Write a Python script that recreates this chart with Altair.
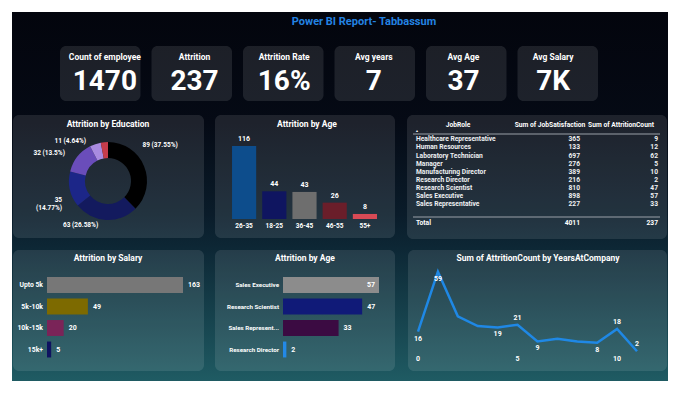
import altair as alt
import pandas as pd

# ---------------- data ----------------
report_title = "Power BI Report- Tabbassum"

kpi_labels = ["Count of employee", "Attrition", "Attrition Rate", "Avg years", "Avg Age", "Avg Salary"]
kpi_values = ["1470", "237", "16%", "7", "37", "7K"]

edu_keys = ["e1", "e2", "e3", "e4", "e5", "e6"]
edu_values = [89, 63, 35, 32, 11, 7]
edu_labels = ["89 (37.55%)", "63 (26.58%)", "35\n(14.77%)", "32 (13.5%)", "11 (4.64%)", ""]
edu_colors = ["#000000", "#131a5e", "#1c2688", "#6a4dba", "#a98be0", "#c63c4c"]

age_groups = ["26-35", "18-25", "36-45", "46-55", "55+"]
age_attrition = [116, 44, 43, 26, 8]
age_colors = ["#0d4d8c", "#0f1560", "#6e6e6e", "#6a1e2a", "#d84a55"]

job_roles = ["Healthcare Representative", "Human Resources", "Laboratory Technician", "Manager",
             "Manufacturing Director", "Research Director", "Research Scientist",
             "Sales Executive", "Sales Representative"]
job_satisfaction = [365, 133, 697, 276, 389, 216, 810, 898, 227]
job_attrition = [9, 12, 62, 5, 10, 2, 47, 57, 33]
table_total = ["Total", "4011", "237"]

salary_bands = ["Upto 5k", "5k-10k", "10k-15k", "15k+"]
salary_attrition = [163, 49, 20, 5]
salary_colors = ["#777777", "#7d6a00", "#7a2458", "#0e1260"]

top_roles = ["Sales Executive", "Research Scientist", "Sales Represent...", "Research Director"]
top_role_attrition = [57, 47, 33, 2]
top_role_colors = ["#8c8c8c", "#101a78", "#3b0b42", "#2389e6"]

years = [0, 1, 2, 3, 4, 5, 6, 7, 8, 9, 10, 11]
years_attrition = [16, 59, 27, 20, 19, 21, 9, 11, 9, 8, 18, 2]
years_label_below = [0, 1, 4, 6, 9]
years_label_above = [5, 10, 11]
years_ticks = [0, 5, 10]

# ---------------- style ----------------
FONT = "Roboto"
WHITE = "#ffffff"
one = alt.Data(values=[{"a": 1}])


def box(x1, y1, x2, y2, **kw):
    return alt.Chart(one).mark_rect(**kw).encode(
        x=alt.value(x1), x2=alt.value(x2), y=alt.value(y1), y2=alt.value(y2))


def label(text, x, y, size=8.5, color=WHITE, align="center", weight="bold"):
    return alt.Chart(one).mark_text(
        text=text, fontSize=size, color=color, align=align, baseline="middle",
        font=FONT, fontWeight=weight).encode(x=alt.value(x), y=alt.value(y))


def hline(x1, x2, y, color="#9aa0a8", width=1):
    return alt.Chart(one).mark_rule(color=color, strokeWidth=width).encode(
        x=alt.value(x1), x2=alt.value(x2), y=alt.value(y))


def txt(**kw):
    base = dict(fontSize=7, fontWeight="bold", font=FONT, color=WHITE, baseline="middle")
    base.update(kw)
    return base


layers = []

# background frame with gradient
layers.append(box(4, 4, 660, 373, fill=alt.Gradient(
    gradient="linear", x1=0, y1=0, x2=0, y2=1,
    stops=[alt.GradientStop(offset=0, color="#03050d"),
           alt.GradientStop(offset=0.3, color="#050a15"),
           alt.GradientStop(offset=0.55, color="#0a1c2a"),
           alt.GradientStop(offset=0.64, color="#0d2735"),
           alt.GradientStop(offset=1, color="#1f5b63")])))

# panels
PANEL = dict(fill="white", fillOpacity=0.1, cornerRadius=6)
for (x1, y1, x2, y2) in [(5, 107, 196, 230), (207, 107, 387, 230), (399, 107, 659, 231),
                         (5, 242, 196, 363), (207, 242, 387, 363), (400, 242, 659, 363)]:
    layers.append(box(x1, y1, x2, y2, **PANEL))

# title
layers.append(label(report_title, 356, 14, size=11, color="#2383e2"))

# KPI cards
kpi_df = pd.DataFrame({"k": kpi_labels, "v": kpi_values})
kx = alt.X("k:N", sort=kpi_labels, axis=None,
           scale=alt.Scale(domain=kpi_labels, range=[52, 590], paddingInner=0.12, paddingOuter=0))
layers.append(alt.Chart(kpi_df).mark_rect(**PANEL).encode(x=kx, y=alt.value(38), y2=alt.value(93)))
layers.append(alt.Chart(kpi_df).mark_text(**txt(fontSize=8.5))
              .encode(x=kx, y=alt.value(49), text="k:N"))
layers.append(alt.Chart(kpi_df).mark_text(**txt(fontSize=28))
              .encode(x=kx, y=alt.value(74), text="v:N"))

# panel titles
layers.append(label("Attrition by Education", 100, 116))
layers.append(label("Attrition by Age", 299, 116))
layers.append(label("Attrition by Salary", 100, 250))
layers.append(label("Attrition by Age", 297, 250))
layers.append(label("Sum of AttritionCount by YearsAtCompany", 530, 250))

# donut
edu_df = pd.DataFrame({"e": edu_keys, "n": edu_values, "lab": edu_labels,
                       "col": edu_colors, "o": list(range(len(edu_keys)))})
theta = alt.Theta("n:Q", stack=True)
layers.append(alt.Chart(edu_df).mark_arc(innerRadius=23, outerRadius=39).encode(
    theta=theta, order=alt.Order("o:Q"), color=alt.Color("col:N", scale=None),
    x=alt.value(100), y=alt.value(173)))
edu_label_style = [  # (dx, dy, align)
    (-8, -18, "left"), (-25, -2, "center"), (-1, 9, "right"), (-7, 1, "right"), (-7, 3, "right")]
for i, (dx, dy, al) in enumerate(edu_label_style):
    layers.append(alt.Chart(edu_df).transform_calculate(
        t=f"datum.o == {i} ? datum.lab : ''").mark_text(
        **txt(radius=46, dx=dx, dy=dy, align=al, lineBreak="\n", lineHeight=8, fontSize=6.5)).encode(
        theta=theta, order=alt.Order("o:Q"), text="t:N", x=alt.value(100), y=alt.value(173)))

# age bars
age_df = pd.DataFrame({"g": age_groups, "n": age_attrition, "col": age_colors})
ax = alt.X("g:N", sort=age_groups, axis=None,
           scale=alt.Scale(domain=age_groups, range=[221, 372], paddingInner=0.2, paddingOuter=0.1))
ay = alt.Y("n:Q", axis=None, scale=alt.Scale(domain=[0, 116], range=[211, 138], nice=False))
layers.append(alt.Chart(age_df).mark_bar().encode(x=ax, y=ay, color=alt.Color("col:N", scale=None)))
layers.append(alt.Chart(age_df).mark_text(**txt(dy=-7))
              .encode(x=ax, y=ay, text="n:Q"))
layers.append(alt.Chart(age_df).mark_text(**txt(fontSize=6.5))
              .encode(x=ax, y=alt.value(218), text="g:N"))

# table
tbl_df = pd.DataFrame({"r": job_roles, "s": job_satisfaction, "a": job_attrition})
ty = alt.Y("r:N", sort=job_roles, axis=None,
           scale=alt.Scale(type="point", domain=job_roles, range=[131.3, 196.3], padding=0))
TSTYLE = txt(fontSize=6.7, color="#eef0f2")
layers.append(label("JobRole", 450, 117, size=6.7))
layers.append(label("Sum of JobSatisfaction", 542, 117, size=6.7))
layers.append(label("Sum of AttritionCount", 613, 117, size=6.7))
layers.append(label("▲", 409, 123, size=3.5))
layers.append(hline(405, 652, 126))
layers.append(alt.Chart(tbl_df).mark_text(align="left", **TSTYLE).encode(x=alt.value(408), y=ty, text="r:N"))
layers.append(alt.Chart(tbl_df).mark_text(align="right", **TSTYLE).encode(x=alt.value(572), y=ty, text="s:Q"))
layers.append(alt.Chart(tbl_df).mark_text(align="right", **TSTYLE).encode(x=alt.value(650), y=ty, text="a:Q"))
layers.append(hline(405, 652, 209))
layers.append(label(table_total[0], 408, 215, size=6.7, align="left"))
layers.append(label(table_total[1], 572, 215, size=6.7, align="right"))
layers.append(label(table_total[2], 650, 215, size=6.7, align="right"))

# salary bars
sal_df = pd.DataFrame({"b": salary_bands, "n": salary_attrition, "col": salary_colors})
sy = alt.Y("b:N", sort=salary_bands, axis=None,
           scale=alt.Scale(domain=salary_bands, range=[266.25, 352.25], paddingInner=0.26, paddingOuter=0.13))
sx = alt.X("n:Q", axis=None, scale=alt.Scale(domain=[0, 163], range=[39, 175], nice=False))
layers.append(alt.Chart(sal_df).mark_bar().encode(x=sx, y=sy, color=alt.Color("col:N", scale=None)))
layers.append(alt.Chart(sal_df).mark_text(**txt(align="right", fontSize=6.8))
              .encode(x=alt.value(35), y=sy, text="b:N"))
layers.append(alt.Chart(sal_df).mark_text(**txt(align="left", dx=5))
              .encode(x=sx, y=sy, text="n:Q"))

# job role bars
role_df = pd.DataFrame({"r": top_roles, "n": top_role_attrition, "col": top_role_colors})
ry = alt.Y("r:N", sort=top_roles, axis=None,
           scale=alt.Scale(domain=top_roles, range=[266.25, 352.25], paddingInner=0.26, paddingOuter=0.13))
rx = alt.X("n:Q", axis=None, scale=alt.Scale(domain=[0, 57], range=[275, 371], nice=False))
layers.append(alt.Chart(role_df).mark_bar().encode(x=rx, y=ry, color=alt.Color("col:N", scale=None)))
layers.append(alt.Chart(role_df).mark_text(**txt(align="right", fontSize=6.2))
              .encode(x=alt.value(271), y=ry, text="r:N"))
layers.append(alt.Chart(role_df).transform_calculate(t="datum.n >= 50 ? datum.n : ''").mark_text(
    **txt(align="right", dx=-4)).encode(x=rx, y=ry, text="t:N"))
layers.append(alt.Chart(role_df).transform_calculate(t="datum.n < 50 ? datum.n : ''").mark_text(
    **txt(align="left", dx=5)).encode(x=rx, y=ry, text="t:N"))

# line chart
yr_df = pd.DataFrame({"yr": years, "n": years_attrition})
lx = alt.X("yr:Q", axis=None, scale=alt.Scale(domain=[0, 11], range=[410, 629], nice=False, zero=False))
ly = alt.Y("n:Q", axis=None, scale=alt.Scale(domain=[0, 59], range=[346, 263.7], nice=False))
layers.append(alt.Chart(yr_df).mark_line(color="#1f88e5", strokeWidth=2.5).encode(x=lx, y=ly))
layers.append(alt.Chart(yr_df).transform_filter(alt.FieldOneOfPredicate(field="yr", oneOf=years_label_below))
              .mark_text(**txt(dy=7)).encode(x=lx, y=ly, text="n:Q"))
layers.append(alt.Chart(yr_df).transform_filter(alt.FieldOneOfPredicate(field="yr", oneOf=years_label_above))
              .mark_text(**txt(dy=-7)).encode(x=lx, y=ly, text="n:Q"))
tick_df = pd.DataFrame({"yr": years_ticks})
layers.append(alt.Chart(tick_df).mark_text(**txt())
              .encode(x=lx, y=alt.value(351), text="yr:Q"))

chart = alt.layer(*layers).resolve_scale(x="independent", y="independent").properties(
    width=664, height=373, padding=0, autosize="none", background="white"
).configure_view(stroke=None)

chart.save("out.html", embed_options={"renderer": "svg", "actions": False})
